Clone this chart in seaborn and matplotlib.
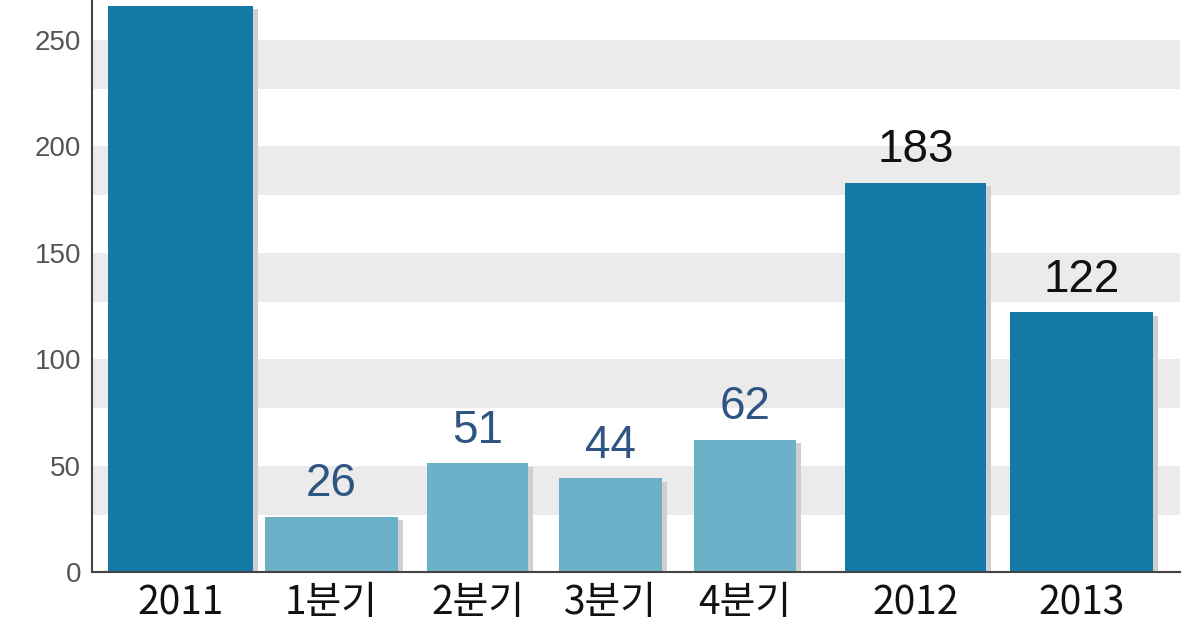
import matplotlib
matplotlib.use("Agg")
import matplotlib.pyplot as plt
import seaborn as sns

categories = ["2011", "1분기", "2분기", "3분기", "4분기", "2012", "2013"]
values = [266, 26, 51, 44, 62, 183, 122]
labels = [None, "26", "51", "44", "62", "183", "122"]
yticks = [0, 50, 100, 150, 200, 250]

# layout (pixel-based x positions)
left = [108, 265, 427, 559, 694, 845, 1010]
right = [253, 398, 528, 662, 796, 986, 1153]
dark, light = "#1479a6", "#6db1c9"
colors = [dark, light, light, light, light, dark, dark]
lblcol = [None, "#2f5583", "#2f5583", "#2f5583", "#2f5583", "#111111", "#111111"]

sns.set_style("white")
plt.rcParams["font.family"] = ["Liberation Sans", "Noto Sans CJK KR", "DejaVu Sans"]

fig = plt.figure(figsize=(12, 6.3), dpi=100)
ax = fig.add_axes([92/1200, 58/630, 1088/1200, 572/630])
ax.set_xlim(92, 1180)
ax.set_ylim(0, 268.8)

for t in yticks[1:]:
    ax.axhspan(t - 23, t, color="#ebebeb", zorder=0, lw=0)

centers = [(l + r) / 2 for l, r in zip(left, right)]
widths = [r - l for l, r in zip(left, right)]
ax.bar([c + 5 for c in centers], [v - 1.5 for v in values], width=widths,
       color="#cfcfcf", zorder=1, lw=0)
ax.bar(centers, values, width=widths, color=colors, zorder=2, lw=0)

for c, v, lab, col in zip(centers, values, labels, lblcol):
    if lab:
        ax.text(c, v + 5, lab, ha="center", va="bottom", fontsize=33, color=col)

ax.set_xticks(centers)
ax.set_xticklabels(categories, fontsize=28, color="#111111",
                   family=["Noto Sans CJK KR", "DejaVu Sans"])
ax.tick_params(axis="x", length=0, pad=8)
ax.set_yticks(yticks)
ax.set_yticklabels([str(t) for t in yticks], fontsize=20, color="#555555")
ax.tick_params(axis="y", length=8, color="#444444", width=1.2, pad=8, direction="in")
for s in ["top", "right"]:
    ax.spines[s].set_visible(False)
for s in ["left", "bottom"]:
    ax.spines[s].set_color("#444444")
    ax.spines[s].set_linewidth(1.5)
ax.set_xlabel("")
ax.set_ylabel("")
fig.savefig("out.png", dpi=100)
